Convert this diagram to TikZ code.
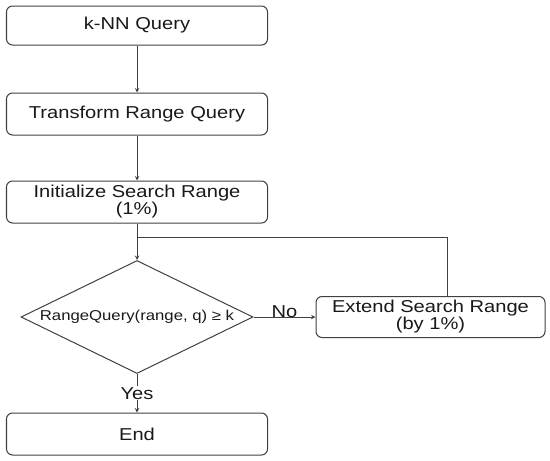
\documentclass[tikz,border=0pt]{standalone}
\usepackage{fontspec}
\setmainfont{Liberation Sans}[FakeStretch=1.17]
\usetikzlibrary{shapes.geometric}

\newlength{\du}
\setlength{\du}{10bp}
\definecolor{dialinecolor}{rgb}{0.250000, 0.250000, 0.250000}
\definecolor{diatextcolor}{rgb}{0.100000, 0.100000, 0.100000}

\tikzset{
  diabox/.style={draw=dialinecolor, rounded corners=0.6\du, minimum width=26.1\du,
    minimum height=4.2\du, inner sep=0pt, align=center, text=diatextcolor,
    font=\fontsize{17.2bp}{16bp}\selectfont},
  diadecision/.style={draw=dialinecolor, diamond, aspect=2.05, minimum width=23.2\du,
    minimum height=11.3\du, inner sep=1pt, text=diatextcolor,
    font=\fontsize{14.3bp}{16bp}\selectfont},
  dialabel/.style={inner sep=0pt, text=diatextcolor, font=\fontsize{17.2bp}{20bp}\selectfont}
}

\begin{document}
\begin{tikzpicture}[even odd rule]
\pgftransformxscale{1.000000}
\pgftransformyscale{-1.000000}
\pgfsetlinewidth{0.100000\du}
\useasboundingbox (0\du,0\du) rectangle (55.000000\du,46.100000\du);
% boxes
\node[diabox, minimum height=3.9\du] (query) at (13.700000\du,2.550000\du) {k-NN Query};
\node[diabox] (transform) at (13.700000\du,11.400000\du) {Transform Range Query};
\node[diabox] (init) at (13.700000\du,20.200000\du) {Initialize Search Range\\(1\%)};
\node[diadecision] (test) at (13.700000\du,31.700000\du) {RangeQuery(range, q) ≥ k};
\node[diabox, minimum width=22.9\du, minimum height=4.1\du] (extend) at (43.050000\du,31.700000\du) {Extend Search Range\\(by 1\%)};
\node[diabox] (end) at (13.700000\du,43.400000\du) {End};
\coordinate (loop) at (44.700000\du,23.700000\du);
% connectors
{
\pgfsetarrowsend{stealth}
\draw[draw=dialinecolor] (query) -- (transform);
\draw[draw=dialinecolor] (transform) -- (init);
\draw[draw=dialinecolor] (init) -- (test);
\draw[draw=dialinecolor] (test) -- node[dialabel, anchor=base]{No} (extend);
\draw[draw=dialinecolor] (test) -- node[dialabel, fill=white, inner sep=1pt]{Yes} (end);
}
% was here!!!
\draw[draw=dialinecolor] (extend.north -| loop) -- (loop) -- (init.south |- loop);
\end{tikzpicture}
\end{document}
